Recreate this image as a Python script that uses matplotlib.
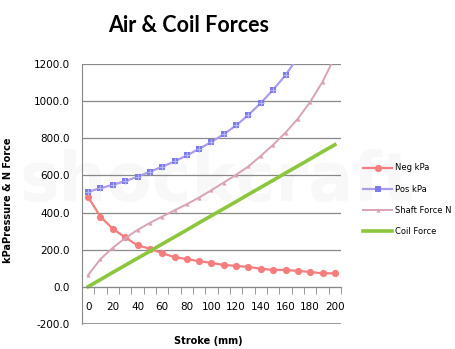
import matplotlib.pyplot as plt
from matplotlib.ticker import FormatStrFormatter

stroke = [0, 10, 20, 30, 40, 50, 60, 70, 80, 90, 100,
          110, 120, 130, 140, 150, 160, 170, 180, 190, 200]
neg_kpa = [483, 377, 312, 266, 223, 205, 181, 159, 149, 137, 128,
           117, 112, 106, 97, 90, 90, 85, 79, 72, 72]
pos_kpa = [512, 531, 550, 569, 593, 620, 647, 676, 708, 744, 781,
           823, 870, 927, 991, 1063, 1141, 1237, 1350, 1485, 1650]
shaft_force = [63, 149, 210, 262, 306, 344, 378, 412, 445, 481, 521,
               562, 604, 649, 706, 766, 831, 906, 997, 1105, 1240]
coil_force = [0, 38, 77, 115, 153, 191, 230, 268, 306, 345, 383,
              421, 459, 498, 536, 574, 613, 651, 689, 728, 766]

idx = list(range(len(stroke)))

fig = plt.figure(figsize=(4.56, 3.49), dpi=100)
fig.patch.set_facecolor("white")

# faint watermark behind the plot
fig.text(20 / 456, 1 - 182 / 349, "shockcraft", fontsize=48, fontweight="bold",
         color="#f8f8f8", va="center", ha="left", zorder=-5)

ax = fig.add_axes([82 / 456, 1 - 323.7 / 349, 259 / 456, (323.7 - 64.3) / 349])
ax.patch.set_alpha(0)

grid_col = "#888888"
ax.set_ylim(-200, 1200)
ax.set_yticks(range(-200, 1201, 200))
ax.yaxis.set_major_formatter(FormatStrFormatter("%.1f"))
ax.grid(axis="y", color=grid_col, linewidth=0.9)
ax.set_axisbelow(True)

ax.set_xlim(-0.5, len(stroke) - 0.5)
ax.set_xticks(idx[::2])
ax.set_xticklabels([str(s) for s in stroke[::2]])
ax.set_xticks([i - 0.5 for i in range(len(stroke) + 1)], minor=True)
ax.tick_params(axis="x", which="major", length=0, pad=11, labelsize=7.5)
ax.tick_params(axis="x", which="minor", length=5, color=grid_col, direction="out")
ax.tick_params(axis="y", length=0, pad=9, labelsize=7.5)

ax.spines["top"].set_visible(False)
ax.spines["right"].set_visible(False)
ax.spines["left"].set_color(grid_col)
ax.spines["bottom"].set_color(grid_col)
ax.spines["bottom"].set_position(("data", 0))
ax.axhline(-200, color=grid_col, linewidth=1.2)

ax.plot(idx, neg_kpa, color="#F47E7E", linewidth=1.6, marker="o",
        markersize=5.2, markeredgewidth=0, label="Neg kPa")
ax.plot(idx, pos_kpa, color="#AC9DEB", linewidth=1.6, marker="s",
        markersize=5, markerfacecolor="#7B7BEB", markeredgewidth=0, label="Pos kPa")
ax.plot(idx, pos_kpa, linestyle="none", marker="+", markersize=5,
        markeredgecolor="#B4B4F6", markeredgewidth=0.8)
ax.plot(idx, shaft_force, color="#D9A3B5", linewidth=1.4, marker="^",
        markersize=3, markeredgewidth=0, label="Shaft Force N")
ax.plot(idx, coil_force, color="#8CC63E", linewidth=2.6, label="Coil Force")

ax.set_xlabel("Stroke (mm)", fontsize=7, fontweight="bold")
ax.xaxis.set_label_coords(208 / 456, 1 - 336 / 349, transform=fig.transFigure)
ax.set_ylabel("kPaPressure & N Force", fontsize=7, fontweight="bold")
ax.yaxis.set_label_coords(13.5 / 456, 1 - 200 / 349, transform=fig.transFigure)

fig.text(189 / 456, 1 - 25 / 349, "Air & Coil Forces", fontsize=15.5,
         fontweight="bold", family="Lato", ha="center", va="center")

h, l = ax.get_legend_handles_labels()
fig.legend(h, l, loc="upper left", bbox_to_anchor=(356 / 456, 1 - 156 / 349),
           frameon=False, fontsize=6, handlelength=3.4, handletextpad=0.35,
           labelspacing=1.45)

fig.savefig("out.png", dpi=100)
